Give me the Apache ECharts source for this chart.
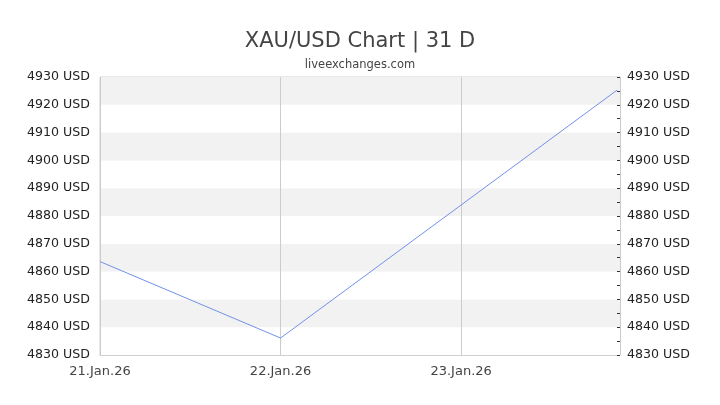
<!DOCTYPE html>
<html>
<head>
<meta charset="utf-8">
<script src="https://cdn.jsdelivr.net/npm/echarts@6/dist/echarts.min.js"></script>
<style>html,body{margin:0;padding:0;background:#fff}#c{width:720px;height:405px}</style>
</head>
<body>
<div id="c"></div>
<script>
const titleText = 'XAU/USD Chart | 31 D';
const subtitleText = 'liveexchanges.com';
const dateLabels = ['21.Jan.26', '22.Jan.26', '23.Jan.26'];
const dayOffsets = [0, 1, 2.864];
const prices = [4863.6, 4836.1, 4925.3];
const yMin = 4830, yMax = 4930, yStep = 10;
const xMax = 2.88;

const chart = echarts.init(document.getElementById('c'));
const font = 'DejaVu Sans';
const yLabelFmt = v => v + ' USD';
chart.setOption({
  animation: false,
  textStyle: { fontFamily: font },
  title: {
    text: titleText, subtext: subtitleText, left: 'center', top: 26,
    itemGap: 7,
    textStyle: { fontFamily: font, fontSize: 21, fontWeight: 'normal', color: '#444' },
    subtextStyle: { fontFamily: font, fontSize: 11.5, color: '#444' }
  },
  grid: { left: 100, right: 100, top: 77, bottom: 50, show: true, borderColor: '#d0d0d0', borderWidth: 1, backgroundColor: 'transparent' },
  xAxis: {
    type: 'value', min: 0, max: xMax, interval: 1,
    axisLine: { show: true, lineStyle: { color: '#d0d0d0' } },
    axisTick: { show: false },
    splitLine: { show: true, lineStyle: { color: '#ccc' } },
    axisLabel: {
      color: '#444', fontSize: 13, margin: 10, fontFamily: font,
      formatter: v => (Number.isInteger(v) && dateLabels[v] !== undefined) ? dateLabels[v] : ''
    }
  },
  yAxis: [
    {
      type: 'value', min: yMin, max: yMax, interval: yStep, position: 'left',
      axisLine: { show: false }, axisTick: { show: false },
      splitLine: { show: false },
      splitArea: { show: true, areaStyle: { color: ['#ffffff', '#f2f2f2'] } },
      axisLabel: { color: '#222', fontSize: 12.6, margin: 10, fontFamily: font, formatter: yLabelFmt }
    },
    {
      type: 'value', min: yMin, max: yMax, interval: yStep, position: 'right',
      axisLine: { show: false },
      axisTick: { show: true, inside: true, length: 3, lineStyle: { color: '#333' } },
      minorTick: { show: true, splitNumber: 2, length: 3, lineStyle: { color: '#333' } },
      splitLine: { show: false },
      axisLabel: { color: '#222', fontSize: 12.6, margin: 7, fontFamily: font, formatter: yLabelFmt }
    }
  ],
  series: [{
    type: 'line',
    data: dayOffsets.map((d, i) => [d, prices[i]]),
    showSymbol: false,
    lineStyle: { color: '#7092e8', width: 1 },
    yAxisIndex: 0
  }]
});
</script>
</body>
</html>
